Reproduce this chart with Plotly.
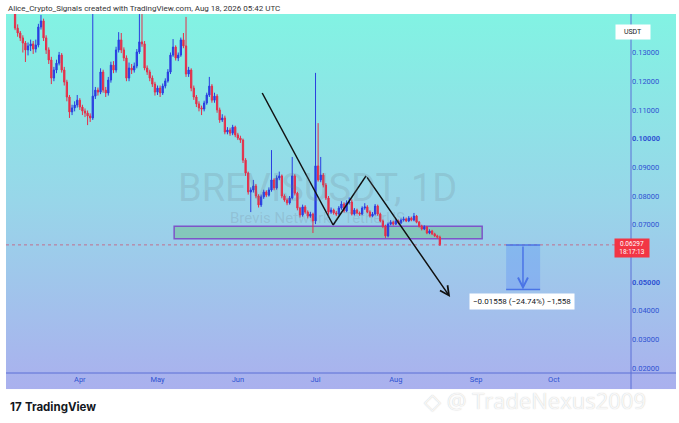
import base64
import pandas as pd
import plotly.graph_objects as go

# BREVISUSDT daily candles, Mar 7 - Aug 18 2026
first_open = 0.1434
closes = [
    0.1385, 0.1368, 0.1351, 0.1333, 0.1309, 0.1323, 0.1330, 0.1312, 0.1326, 0.1389,
    0.1410, 0.1351, 0.1309, 0.1274, 0.1211, 0.1239, 0.1263, 0.1291, 0.1239, 0.1197,
    0.1145, 0.1093, 0.1107, 0.1117, 0.1134, 0.1110, 0.1096, 0.1089, 0.1079, 0.1072,
    0.1148, 0.1169, 0.1162, 0.1232, 0.1169, 0.1159, 0.1204, 0.1256, 0.1239, 0.1309,
    0.1344, 0.1309, 0.1281, 0.1211, 0.1246, 0.1239, 0.1253, 0.1302, 0.1337, 0.1330,
    0.1246, 0.1232, 0.1211, 0.1190, 0.1162, 0.1176, 0.1159, 0.1183, 0.1201, 0.1232,
    0.1291, 0.1319, 0.1281, 0.1291, 0.1344, 0.1323, 0.1225, 0.1239, 0.1176, 0.1145,
    0.1121, 0.1107, 0.1103, 0.1124, 0.1152, 0.1183, 0.1134, 0.1148, 0.1100, 0.1065,
    0.1072, 0.1023, 0.1030, 0.1019, 0.1040, 0.1013, 0.1002, 0.0995, 0.0925, 0.0880,
    0.0814, 0.0821, 0.0835, 0.0800, 0.0769, 0.0797, 0.0814, 0.0803, 0.0821, 0.0856,
    0.0828, 0.0863, 0.0870, 0.0800, 0.0786, 0.0776, 0.0793, 0.0870, 0.0810, 0.0758,
    0.0734, 0.0762, 0.0744, 0.0730, 0.0737, 0.0713, 0.0905, 0.0856, 0.0873, 0.0838,
    0.0793, 0.0744, 0.0751, 0.0741, 0.0737, 0.0758, 0.0772, 0.0748, 0.0776, 0.0779,
    0.0737, 0.0751, 0.0741, 0.0737, 0.0758, 0.0762, 0.0744, 0.0730, 0.0737, 0.0765,
    0.0737, 0.0713, 0.0695, 0.0661, 0.0702, 0.0709, 0.0702, 0.0713, 0.0706, 0.0716,
    0.0720, 0.0713, 0.0723, 0.0716, 0.0730, 0.0709, 0.0695, 0.0685, 0.0692, 0.0671,
    0.0678, 0.0668, 0.0661, 0.0657, 0.06297,
]
highs = [
    0.1441, 0.1398, 0.1375, 0.1360, 0.1340, 0.1335, 0.1345, 0.1340, 0.1345, 0.1400,
    0.1431, 0.1418, 0.1360, 0.1318, 0.1285, 0.1250, 0.1275, 0.1302, 0.1298, 0.1250,
    0.1205, 0.1152, 0.1118, 0.1130, 0.1152, 0.1141, 0.1118, 0.1105, 0.1098, 0.1088,
    0.1450, 0.1180, 0.1178, 0.1245, 0.1240, 0.1180, 0.1215, 0.1268, 0.1270, 0.1320,
    0.1371, 0.1368, 0.1318, 0.1290, 0.1265, 0.1260, 0.1265, 0.1312, 0.1434, 0.1440,
    0.1340, 0.1255, 0.1240, 0.1220, 0.1198, 0.1185, 0.1185, 0.1192, 0.1210, 0.1242,
    0.1300, 0.1347, 0.1325, 0.1300, 0.1352, 0.1368, 0.1424, 0.1250, 0.1245, 0.1185,
    0.1152, 0.1130, 0.1115, 0.1132, 0.1160, 0.1215, 0.1190, 0.1160, 0.1155, 0.1108,
    0.1085, 0.1080, 0.1040, 0.1038, 0.1048, 0.1045, 0.1020, 0.1010, 0.1000, 0.0932,
    0.0885, 0.0830, 0.0856, 0.0842, 0.0806, 0.0805, 0.0822, 0.0820, 0.0830, 0.0960,
    0.0862, 0.0872, 0.0885, 0.0875, 0.0806, 0.0792, 0.0800, 0.0936, 0.0876, 0.0815,
    0.0762, 0.0770, 0.0768, 0.0750, 0.0745, 0.0742, 0.1229, 0.1054, 0.0936, 0.0880,
    0.0845, 0.0800, 0.0760, 0.0756, 0.0748, 0.0765, 0.0782, 0.0778, 0.0785, 0.0795,
    0.0788, 0.0758, 0.0756, 0.0746, 0.0764, 0.0775, 0.0768, 0.0750, 0.0744, 0.0772,
    0.0770, 0.0742, 0.0718, 0.0700, 0.0708, 0.0716, 0.0714, 0.0719, 0.0718, 0.0722,
    0.0728, 0.0725, 0.0730, 0.0728, 0.0741, 0.0734, 0.0713, 0.0700, 0.0698, 0.0696,
    0.0684, 0.0682, 0.0672, 0.0665, 0.0662,
]
lows = [
    0.1378, 0.1355, 0.1340, 0.1300, 0.1267, 0.1290, 0.1305, 0.1295, 0.1300, 0.1318,
    0.1380, 0.1340, 0.1295, 0.1260, 0.1190, 0.1200, 0.1228, 0.1255, 0.1230, 0.1185,
    0.1130, 0.1072, 0.1082, 0.1095, 0.1108, 0.1100, 0.1082, 0.1075, 0.1047, 0.1058,
    0.1065, 0.1138, 0.1150, 0.1155, 0.1160, 0.1145, 0.1150, 0.1195, 0.1228, 0.1230,
    0.1300, 0.1298, 0.1270, 0.1200, 0.1200, 0.1225, 0.1230, 0.1245, 0.1295, 0.1320,
    0.1238, 0.1222, 0.1200, 0.1180, 0.1150, 0.1152, 0.1145, 0.1152, 0.1175, 0.1195,
    0.1225, 0.1285, 0.1272, 0.1270, 0.1285, 0.1315, 0.1215, 0.1215, 0.1165, 0.1135,
    0.1110, 0.1095, 0.1082, 0.1095, 0.1118, 0.1145, 0.1125, 0.1125, 0.1090, 0.1055,
    0.1058, 0.1015, 0.1015, 0.1010, 0.1012, 0.1005, 0.0995, 0.0985, 0.0915, 0.0870,
    0.0805, 0.0744, 0.0812, 0.0792, 0.0760, 0.0762, 0.0790, 0.0796, 0.0798, 0.0815,
    0.0820, 0.0822, 0.0855, 0.0792, 0.0780, 0.0768, 0.0770, 0.0788, 0.0802, 0.0750,
    0.0725, 0.0728, 0.0738, 0.0722, 0.0724, 0.0671, 0.0702, 0.0850, 0.0848, 0.0830,
    0.0786, 0.0735, 0.0738, 0.0735, 0.0730, 0.0732, 0.0752, 0.0742, 0.0744, 0.0770,
    0.0732, 0.0732, 0.0736, 0.0731, 0.0733, 0.0752, 0.0740, 0.0725, 0.0726, 0.0732,
    0.0731, 0.0708, 0.0688, 0.0654, 0.0656, 0.0698, 0.0697, 0.0699, 0.0701, 0.0702,
    0.0711, 0.0709, 0.0709, 0.0712, 0.0712, 0.0705, 0.0690, 0.0680, 0.0681, 0.0667,
    0.0667, 0.0664, 0.0657, 0.0652, 0.0626,
]
# each daily candle opens at the previous close
opens = [first_open] + closes[:-1]
dates = pd.date_range('2026-03-07', periods=len(closes), freq='D')

month_ticks = ['2026-04-01', '2026-05-01', '2026-06-01', '2026-07-01',
               '2026-08-01', '2026-09-01', '2026-10-01']
month_labels = ['Apr', 'May', 'Jun', 'Jul', 'Aug', 'Sep', 'Oct']
price_ticks = [0.02, 0.03, 0.04, 0.05, 0.07, 0.08, 0.09, 0.10, 0.11, 0.12, 0.13]
price_labels = ['0.02000', '0.03000', '0.04000', '<b>0.05000</b>', '0.07000',
                '0.08000', '0.09000', '<b>0.10000</b>', '0.11000', '0.12000',
                '0.13000']

last_price = 0.06297
target_price = 0.04739

# drawings (date, price)
zone = ('2026-05-07 10:00', '2026-09-03 08:00', 0.0651, 0.0695)
path_pts = [('2026-06-10 10:00', 0.1159), ('2026-07-07 19:00', 0.0699),
            ('2026-07-20 12:00', 0.0870), ('2026-08-21 23:00', 0.0448)]
proj_box = ('2026-09-12 14:00', '2026-09-25 17:00')
proj_mid = '2026-09-19 02:00'

blue_txt = '#2f52d2'
axis_col = '#5a6fd6'

fig = go.Figure()
fig.add_trace(go.Candlestick(
    x=dates, open=opens, high=highs, low=lows, close=closes,
    increasing=dict(line=dict(color='#2a3ee0', width=1), fillcolor='#2a3ee0'),
    decreasing=dict(line=dict(color='#e5304a', width=1), fillcolor='#e5304a'),
    whiskerwidth=0, hoverinfo='skip', showlegend=False))

# gradient background behind the whole chart pane
svg = ("<svg xmlns='http://www.w3.org/2000/svg' width='10' height='100' "
       "viewBox='0 0 10 100' preserveAspectRatio='none'><defs>"
       "<linearGradient id='g' x1='0' y1='0' x2='0' y2='1'>"
       "<stop offset='0' stop-color='#82f3e3'/>"
       "<stop offset='0.5' stop-color='#98d6e9'/>"
       "<stop offset='1' stop-color='#aab0ee'/></linearGradient></defs>"
       "<rect width='10' height='100' fill='url(#g)'/></svg>")
bg_src = 'data:image/svg+xml;base64,' + base64.b64encode(svg.encode()).decode()

shapes = [
    # pane separators
    dict(type='line', xref='paper', yref='paper', x0=1, x1=1, y0=-0.045, y1=1,
         line=dict(color=axis_col, width=1)),
    dict(type='line', xref='paper', yref='paper', x0=0, x1=1.072, y0=0, y1=0,
         line=dict(color=axis_col, width=1)),
    # support zone, under the candles
    dict(type='rect', xref='x', yref='y', x0=zone[0], x1=zone[1],
         y0=zone[2], y1=zone[3], fillcolor='rgba(110,190,140,0.5)',
         line=dict(color='#7d55c8', width=1.5), layer='below'),
    # last price line
    dict(type='line', xref='paper', yref='y', x0=0, x1=1, y0=last_price,
         y1=last_price, line=dict(color='rgba(205,80,110,0.75)', width=1,
                                  dash='dot')),
    # projection box
    dict(type='rect', xref='x', yref='y', x0=proj_box[0], x1=proj_box[1],
         y0=target_price, y1=last_price, fillcolor='rgba(41,98,255,0.2)',
         line=dict(width=0)),
    dict(type='line', xref='x', yref='y', x0=proj_box[0], x1=proj_box[1],
         y0=last_price, y1=last_price, line=dict(color='#4a74e6', width=1.5)),
    dict(type='line', xref='x', yref='y', x0=proj_box[0], x1=proj_box[1],
         y0=target_price, y1=target_price, line=dict(color='#4a74e6', width=1.5)),
]
for (xa, ya), (xb, yb) in zip(path_pts[:2], path_pts[1:3]):
    shapes.append(dict(type='line', xref='x', yref='y', x0=xa, y0=ya, x1=xb,
                       y1=yb, line=dict(color='#111111', width=1.5)))

annotations = [
    # last leg of the path with arrow
    dict(x=path_pts[3][0], y=path_pts[3][1], ax=path_pts[2][0],
         ay=path_pts[2][1], axref='x', ayref='y', xref='x', yref='y', text='',
         showarrow=True, arrowhead=5, arrowsize=1.2, arrowwidth=1.5,
         arrowcolor='#111111'),
    # projection arrow
    dict(x=proj_mid, y=target_price, ax=proj_mid, ay=last_price, axref='x',
         ayref='y', xref='x', yref='y', text='', showarrow=True, arrowhead=5,
         arrowsize=1.3, arrowwidth=1.5, arrowcolor='#4a74e6'),
    dict(x='2026-09-18 18:00', y=0.0432, xref='x', yref='y',
         text='\u22120.01558 (\u221224.74%) \u22121,558', showarrow=False,
         bgcolor='white', borderpad=3,
         font=dict(family='Roboto', size=8, color='#131722')),
    # symbol watermark
    dict(x=0.499, y=0.515, xref='paper', yref='paper', text='BREVISUSDT, 1D',
         showarrow=False,
         font=dict(family='Roboto', size=38, color='rgba(110,120,135,0.2)')),
    dict(x=0.499, y=0.432, xref='paper', yref='paper',
         text='Brevis Network / TetherUS', showarrow=False,
         font=dict(family='Roboto', size=15, color='rgba(110,120,135,0.2)')),
    # header
    dict(x=0, y=1.015, xref='paper', yref='paper', xanchor='left',
         yanchor='middle', showarrow=False,
         text='Alice_Crypto_Signals created with TradingView.com, Aug 18, 2026 05:42 UTC',
         font=dict(family='Roboto', size=8, color='#333333')),
    # axis labels
    dict(x=1.032, y=0.972, xref='paper', yref='paper', text='USDT',
         showarrow=False, bgcolor='white', width=32, height=12, borderpad=1,
         font=dict(family='Roboto', size=7, color='#131722')),
    dict(x=1.031, y=0.348, xref='paper', yref='paper',
         text='0.06297<br>18:17:13', showarrow=False, bgcolor='#f23645',
         width=32, height=16, borderpad=1,
         font=dict(family='Roboto', size=6.5, color='white')),
    # footer
    dict(x=0.003, y=-0.095, xref='paper', yref='paper', xanchor='left',
         yanchor='middle', showarrow=False,
         text='<b>17</b> <b>TradingView</b>',
         font=dict(family='Inter', size=11.5, color='#131722')),
    dict(x=0.665, y=-0.075, xref='paper', yref='paper', xanchor='left',
         yanchor='middle', showarrow=False, text='\u25c7 @ TradeNexus2009',
         font=dict(family='Open Sans', size=22, color='rgba(255,255,255,0.85)',
                   shadow='0 0 1px #bbb')),
]

fig.update_layout(
    width=679, height=423,
    margin=dict(l=6, r=48, t=14, b=50),
    paper_bgcolor='white', plot_bgcolor='rgba(0,0,0,0)',
    showlegend=False,
    images=[dict(source=bg_src, xref='paper', yref='paper', x=0, y=1,
                 sizex=1.072, sizey=1.045, xanchor='left', yanchor='top',
                 sizing='stretch', layer='below')],
    shapes=shapes, annotations=annotations,
    xaxis=dict(type='date', range=['2026-03-03 12:00', '2026-10-30 19:00'],
               rangeslider=dict(visible=False), showgrid=False, zeroline=False,
               tickvals=month_ticks, ticktext=month_labels, ticks='',
               tickfont=dict(family='Roboto', size=7.5, color=blue_txt)),
    yaxis=dict(side='right', range=[0.01833, 0.14342], showgrid=False,
               zeroline=False, tickvals=price_ticks, ticktext=price_labels,
               ticks='', tickfont=dict(family='Roboto', size=7.5, color=blue_txt)),
)

# drop the default page margin so the figure sits at the window's corner
fig.write_html("out.html", config={'displayModeBar': False},
               post_script="document.body.style.margin='0';")
